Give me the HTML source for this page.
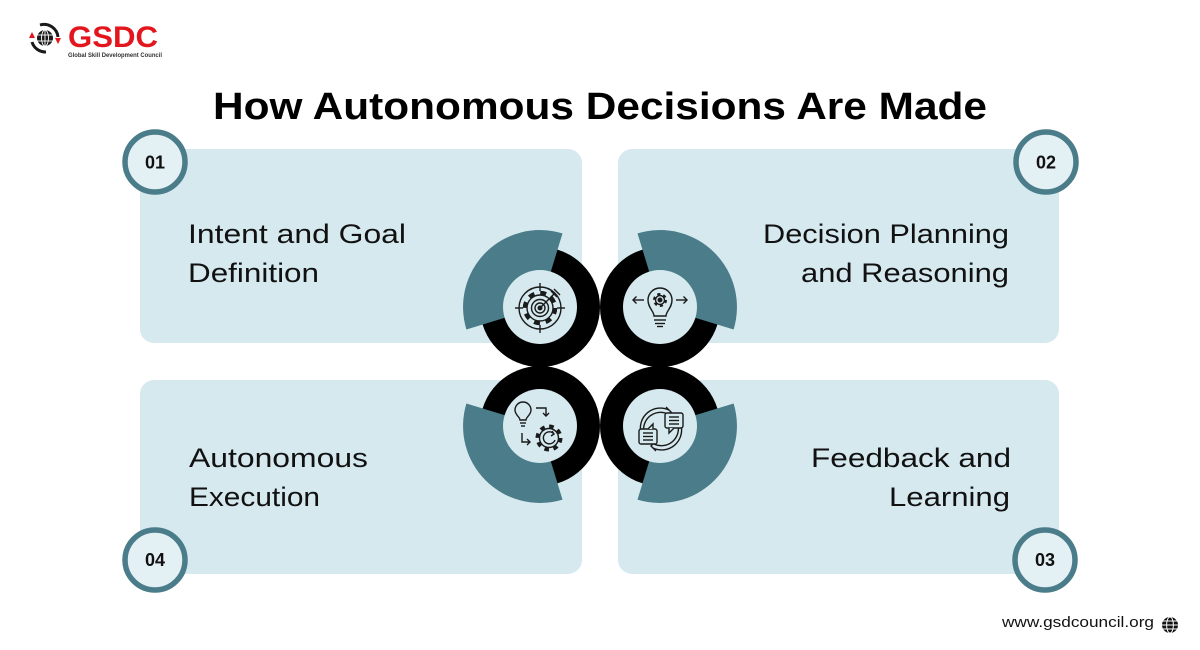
<!DOCTYPE html>
<html><head><meta charset="utf-8">
<style>
html,body{margin:0;padding:0;background:#fff;}
svg{display:block;}
text{font-family:"Liberation Sans",Arial,sans-serif;}
</style></head>
<body>
<svg width="1200" height="650" viewBox="0 0 1200 650" xmlns="http://www.w3.org/2000/svg">
<rect width="1200" height="650" fill="#ffffff"/>

<!-- Logo -->
<g>
  <circle cx="45" cy="38" r="8" fill="#1a1a1a"/>
  <g stroke="#fff" stroke-width="0.9" fill="none">
    <ellipse cx="45" cy="38" rx="3.5" ry="8"/>
    <line x1="45" y1="30" x2="45" y2="46"/>
    <line x1="37.5" y1="35" x2="52.5" y2="35"/>
    <line x1="37.5" y1="41" x2="52.5" y2="41"/>
  </g>
  <path d="M40 25 A14 14 0 0 1 58 37" stroke="#1a1a1a" stroke-width="3" fill="none"/>
  <path d="M32 42 A14 14 0 0 0 46 52" stroke="#1a1a1a" stroke-width="3" fill="none"/>
  <polygon points="55,38 61,38 58,44" fill="#e3161d"/>
  <polygon points="29,38 35,38 32,32" fill="#e3161d"/>
  <text x="68" y="47" font-size="30" font-weight="700" fill="#e3161d" textLength="90" lengthAdjust="spacingAndGlyphs">GSDC</text>
  <text x="68" y="57" font-size="6.5" font-weight="700" fill="#333" textLength="94" lengthAdjust="spacingAndGlyphs">Global Skill Development Council</text>
</g>

<!-- Title -->
<text x="213" y="119" font-size="38" font-weight="700" fill="#000" textLength="774" lengthAdjust="spacingAndGlyphs">How Autonomous Decisions Are Made</text>

<!-- Cards -->
<g fill="#d5e9ef">
  <rect x="140" y="149" width="442" height="194" rx="14"/>
  <rect x="618" y="149" width="441" height="194" rx="14"/>
  <rect x="140" y="380" width="442" height="194" rx="14"/>
  <rect x="618" y="380" width="441" height="194" rx="14"/>
</g>

<!-- Card texts -->
<g font-size="27" fill="#111">
  <text x="188" y="243" textLength="218" lengthAdjust="spacingAndGlyphs">Intent and Goal</text>
  <text x="188" y="282" textLength="131" lengthAdjust="spacingAndGlyphs">Definition</text>
  <text x="763" y="243" textLength="246" lengthAdjust="spacingAndGlyphs">Decision Planning</text>
  <text x="801" y="282" textLength="208" lengthAdjust="spacingAndGlyphs">and Reasoning</text>
  <text x="189" y="467" textLength="179" lengthAdjust="spacingAndGlyphs">Autonomous</text>
  <text x="189" y="506" textLength="131" lengthAdjust="spacingAndGlyphs">Execution</text>
  <text x="811" y="467" textLength="200" lengthAdjust="spacingAndGlyphs">Feedback and</text>
  <text x="889" y="506" textLength="121" lengthAdjust="spacingAndGlyphs">Learning</text>
</g>

<!-- Badges -->
<g fill="#e3f0f4" stroke="#4a7c89" stroke-width="5.5">
  <circle cx="155" cy="162" r="30"/>
  <circle cx="1046" cy="162" r="30"/>
  <circle cx="155" cy="560" r="30"/>
  <circle cx="1045" cy="560" r="30"/>
</g>
<g font-size="18" font-weight="700" fill="#111" text-anchor="middle">
  <text x="155" y="168.5">01</text>
  <text x="1046" y="168.5">02</text>
  <text x="155" y="566">04</text>
  <text x="1045" y="566">03</text>
</g>

<!-- Central rings -->
<g fill="#000">
  <circle cx="540" cy="307" r="60"/>
  <circle cx="660" cy="307" r="60"/>
  <circle cx="540" cy="426" r="60"/>
  <circle cx="660" cy="426" r="60"/>
</g>
<g fill="#4a7c89">
  <path d="M540 307 L562.5 233.4 A77 77 0 0 0 466.4 329.5 Z"/>
  <path d="M660 307 L637.5 233.4 A77 77 0 0 1 733.6 329.5 Z"/>
  <path d="M540 426 L466.4 403.5 A77 77 0 0 0 562.5 499.6 Z"/>
  <path d="M660 426 L733.6 403.5 A77 77 0 0 1 637.5 499.6 Z"/>
</g>
<g fill="#d5e9ef">
  <circle cx="540" cy="307" r="37"/>
  <circle cx="660" cy="307" r="37"/>
  <circle cx="540" cy="426" r="37"/>
  <circle cx="660" cy="426" r="37"/>
</g>

<!-- Icon 1: target gear -->
<g transform="translate(540,308)" stroke="#1a1a1a" fill="none" stroke-width="1.4">
  <circle r="21"/>
  <line x1="0" y1="-25" x2="0" y2="-17"/>
  <line x1="0" y1="17" x2="0" y2="25"/>
  <line x1="-25" y1="0" x2="-17" y2="0"/>
  <line x1="17" y1="0" x2="25" y2="0"/>
  <circle r="15" stroke-width="4.5" stroke-dasharray="5.9 5.9"/>
  <circle r="13" fill="#d5e9ef" stroke-width="1.4"/>
  <circle r="8.5"/>
  <circle r="5"/>
  <circle r="1.8" fill="#1a1a1a"/>
  <line x1="0" y1="0" x2="14" y2="-14"/>
  <path d="M11 -17 L14 -14 L17 -11 M14 -19 L17 -16 L20 -13"/>
</g>

<!-- Icon 2: bulb with gear and arrows -->
<g transform="translate(660,307)" stroke="#1a1a1a" fill="none" stroke-width="1.4">
  <path d="M-6 9 C-6 4 -12 1 -12 -7 A12 12 0 0 1 12 -7 C12 1 6 4 6 9 Z"/>
  <line x1="-6" y1="13" x2="6" y2="13"/>
  <line x1="-5" y1="16.5" x2="5" y2="16.5"/>
  <path d="M-3 19.5 L3 19.5"/>
  <circle cx="0" cy="-7" r="5.5" stroke-width="3" stroke-dasharray="2.9 2.9"/>
  <circle cx="0" cy="-7" r="4.5" fill="#d5e9ef"/>
  <circle cx="0" cy="-7" r="1.8" fill="#1a1a1a"/>
  <line x1="-16" y1="-7" x2="-27" y2="-7"/>
  <path d="M-23.5 -10.5 L-27 -7 L-23.5 -3.5"/>
  <line x1="16" y1="-7" x2="27" y2="-7"/>
  <path d="M23.5 -10.5 L27 -7 L23.5 -3.5"/>
</g>

<!-- Icon 3: bulb -> gear -->
<g transform="translate(540,426)" stroke="#1a1a1a" fill="none" stroke-width="1.4">
  <path d="M-20 -6 C-20 -9 -25 -11 -25 -16 A8 8 0 0 1 -9 -16 C-9 -11 -14 -9 -14 -6 Z"/>
  <line x1="-20" y1="-3" x2="-14" y2="-3"/>
  <line x1="-19" y1="0" x2="-15" y2="0"/>
  <path d="M-4 -18 L6 -18 L6 -10"/>
  <path d="M3 -13 L6 -10 L9 -13"/>
  <path d="M-18 7 L-18 16 L-10 16"/>
  <path d="M-13 13 L-10 16 L-13 19"/>
  <circle cx="9" cy="12" r="11.5" stroke-width="4" stroke-dasharray="4.5 4.5"/>
  <circle cx="9" cy="12" r="9.5" fill="#d5e9ef"/>
  <path d="M14 8 A6 6 0 1 0 15 14"/>
  <path d="M12 5 L14 8 L11 10"/>
</g>

<!-- Icon 4: cycle with chat bubbles -->
<g transform="translate(661,429)" stroke="#1a1a1a" fill="none" stroke-width="1.4">
  <path d="M-20 4 A20 20 0 0 1 8 -19"/>
  <path d="M-17 4 A17 17 0 0 1 7 -15"/>
  <path d="M20 -4 A20 20 0 0 1 -8 19"/>
  <path d="M17 -4 A17 17 0 0 1 -7 15"/>
  <path d="M5 -22 L10 -17 L5 -12"/>
  <path d="M-5 22 L-10 17 L-5 12"/>
  <rect x="4" y="-16" width="18" height="15" rx="2" fill="#d5e9ef"/>
  <path d="M8 -1 L8 4 L13 -1" fill="#d5e9ef"/>
  <line x1="8" y1="-12" x2="18" y2="-12"/>
  <line x1="8" y1="-8.5" x2="18" y2="-8.5"/>
  <line x1="8" y1="-5" x2="18" y2="-5"/>
  <rect x="-22" y="0" width="18" height="15" rx="2" fill="#d5e9ef"/>
  <path d="M-8 0 L-8 -5 L-13 0" fill="#d5e9ef"/>
  <line x1="-18" y1="4" x2="-8" y2="4"/>
  <line x1="-18" y1="7.5" x2="-8" y2="7.5"/>
  <line x1="-18" y1="11" x2="-8" y2="11"/>
</g>

<!-- Footer -->
<text x="1002" y="627" font-size="15" fill="#111" textLength="152" lengthAdjust="spacingAndGlyphs">www.gsdcouncil.org</text>
<g transform="translate(1170,625)">
  <circle r="8" fill="#111"/>
  <g stroke="#fff" stroke-width="1" fill="none">
    <ellipse rx="3.4" ry="8"/>
    <line x1="-8" y1="0" x2="8" y2="0"/>
    <line x1="-7" y1="-4" x2="7" y2="-4"/>
    <line x1="-7" y1="4" x2="7" y2="4"/>
  </g>
</g>
</svg>
</body></html>
